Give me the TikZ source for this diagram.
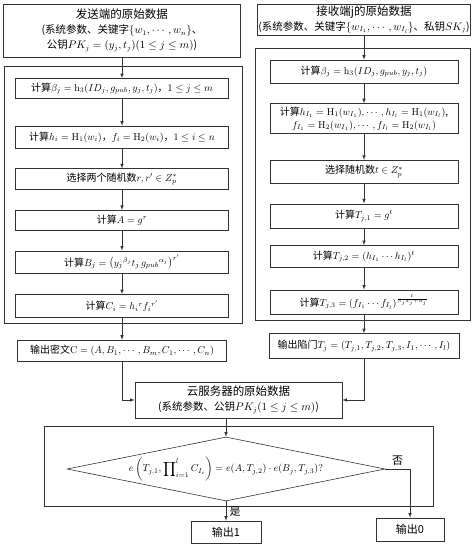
\documentclass[tikz,border=0pt]{standalone}
\usepackage[no-math]{fontspec}
\setmainfont{Noto Sans CJK SC}
\usepackage{amsmath}
\usepackage{tikz}
\usetikzlibrary{positioning,arrows,shapes.geometric}
\newcommand{\hdfont}{\fontsize{11.5}{14}\selectfont}

\begin{document}
\begin{tikzpicture}
    [x=1pt,y=-1pt,>=latex,
     wire/.style={draw=black!80,line width=0.6pt},
     srcbox/.style={rectangle,wire,align=center,inner sep=1pt,
       font=\fontsize{10.5}{15}\selectfont},
     lbox/.style={rectangle,wire,align=center,inner sep=1pt,minimum width=213pt,
       font=\fontsize{10}{13}\selectfont},
     rbox/.style={lbox,minimum width=188pt},
     endbox/.style={lbox,font=\fontsize{11}{13}\selectfont},
     decision/.style={diamond,wire,inner sep=0pt,minimum width=318pt,minimum height=64pt}]
    \useasboundingbox (0,0) rectangle (474,547);

    % sender side
    \node[srcbox,minimum width=237pt,minimum height=53pt] (lsrc) at (122,30.5)
      {{\hdfont 发送端的原始数据}\\
       (系统参数、关键字$\{w_1,\cdots,w_n\}$、\\
       公钥$PK_j=(y_j,t_j)(1\le j\le m)$)};
    \draw[wire] (4,66) rectangle (242,323);
    \node[lbox,minimum height=20pt] (lb1) at (122,88.5)
      {计算$\beta_j=\mathrm{h}_3(ID_j,g_{pub},y_j,t_j)$，$1\le j\le m$};
    \node[lbox,minimum height=22pt,below=27pt of lb1] (lb2)
      {计算$h_i=\mathrm{H}_1(w_i)$，$f_i=\mathrm{H}_2(w_i)$，$1\le i\le n$};
    \node[lbox,minimum height=21pt,below=20pt of lb2] (lb3) {选择两个随机数$r,r'\in Z_p^*$};
    \node[lbox,minimum height=20pt,below=20pt of lb3] (lb4) {计算$A=g^r$};
    \node[lbox,minimum height=22pt,below=20pt of lb4] (lb5)
      {计算$B_j=\bigl(y_j{}^{\beta_j}t_j\,g_{pub}{}^{\alpha_j}\bigr)^{r'}$};
    \node[lbox,minimum height=23pt,below=21pt of lb5] (lb6) {计算$C_i=h_i{}^{r}f_i{}^{r'}$};
    \node[lbox,minimum width=209pt,minimum height=21pt,below=22pt of lb6] (lout)
      {输出密文$\mathrm{C}=(A,B_1,\cdots,B_m,C_1,\cdots,C_n)$};

    % receiver side
    \node[srcbox,minimum width=213pt,minimum height=31pt] (rsrc) at (364,19.5)
      {{\hdfont 接收端j的原始数据}\\
       (系统参数、关键字$\{w_{I_1},\cdots,w_{I_l}\}$、私钥$SK_j$)};
    \draw[wire] (255,48) rectangle (470,320);
    \node[rbox,minimum height=23pt] (rb1) at (364,71.5)
      {计算$\beta_j=\mathrm{h}_3(ID_j,g_{pub},y_j,t_j)$};
    \node[rbox,minimum height=30pt,below=20pt of rb1] (rb2)
      {计算$h_{I_1}=\mathrm{H}_1(w_{I_1}),\cdots,h_{I_l}=\mathrm{H}_1(w_{I_l})$,\\
       $f_{I_1}=\mathrm{H}_2(w_{I_1}),\cdots,f_{I_l}=\mathrm{H}_2(w_{I_l})$};
    \node[rbox,minimum height=23pt,below=26pt of rb2] (rb3) {选择随机数$t\in Z_p^*$};
    \node[rbox,minimum height=24pt,below=20pt of rb3] (rb4) {计算$T_{j,1}=g^t$};
    \node[rbox,minimum height=22pt,below=17pt of rb4] (rb5) {计算$T_{j,2}=(h_{I_1}\cdots h_{I_l})^t$};
    \node[rbox,minimum height=24pt,below=22pt of rb5] (rb6)
      {计算$T_{j,3}=(f_{I_1}\cdots f_{I_l})^{\frac{t}{\beta_j x_j+\alpha_j}}$};
    \node[rbox,minimum width=190pt,minimum height=25pt,below=19pt of rb6] (rout)
      {输出陷门$T_j=(T_{j,1},T_{j,2},T_{j,3},I_1,\cdots,I_l)$};

    \foreach \a/\b in {lsrc/lb1,lb1/lb2,lb2/lb3,lb3/lb4,lb4/lb5,lb5/lb6,lb6/lout,
                       rsrc/rb1,rb1/rb2,rb2/rb3,rb3/rb4,rb4/rb5,rb5/rb6,rb6/rout}
      \draw[wire,->] (\a) -- (\b);

    % cloud server
    \node[srcbox,minimum width=207pt,minimum height=36pt] (cloud) at (238.5,400)
      {{\hdfont 云服务器的原始数据}\\
       (系统参数、公钥$PK_j(1\le j\le m)$)};
    \draw[wire,->] (lout.south) |- (cloud.west);
    \draw[wire,->] (rout.south) |- (cloud.east);

    \draw[wire] (44,426) rectangle (433,506);
    \node[decision] (cond) at (226,469) {};
    \node[font=\fontsize{10}{12}\selectfont] (condtxt) at (cond)
      {$\displaystyle e\left(T_{j,1},\prod\nolimits_{i=1}^{l}C_{I_i}\right)=e(A,T_{j,2})\cdot e(B_j,T_{j,3})?$};
    \draw[wire,->] (cloud.south -| cond.north) -- (cond.north);

    \node[endbox,minimum width=70pt,minimum height=22pt] (out1) at (226,532) {输出1};
    \node[endbox,minimum width=68pt,minimum height=23pt] (out0) at (410,529.5) {输出0};
    \draw[wire,->] (cond.east) -| node[pos=0.25,above,font=\fontsize{11}{13}\selectfont] {否} (out0.north);
    \draw[wire,->] (cond.south) -- node[pos=0.55,right,font=\fontsize{11}{13}\selectfont] {是} (out1.north);
  \end{tikzpicture}
\end{document}
